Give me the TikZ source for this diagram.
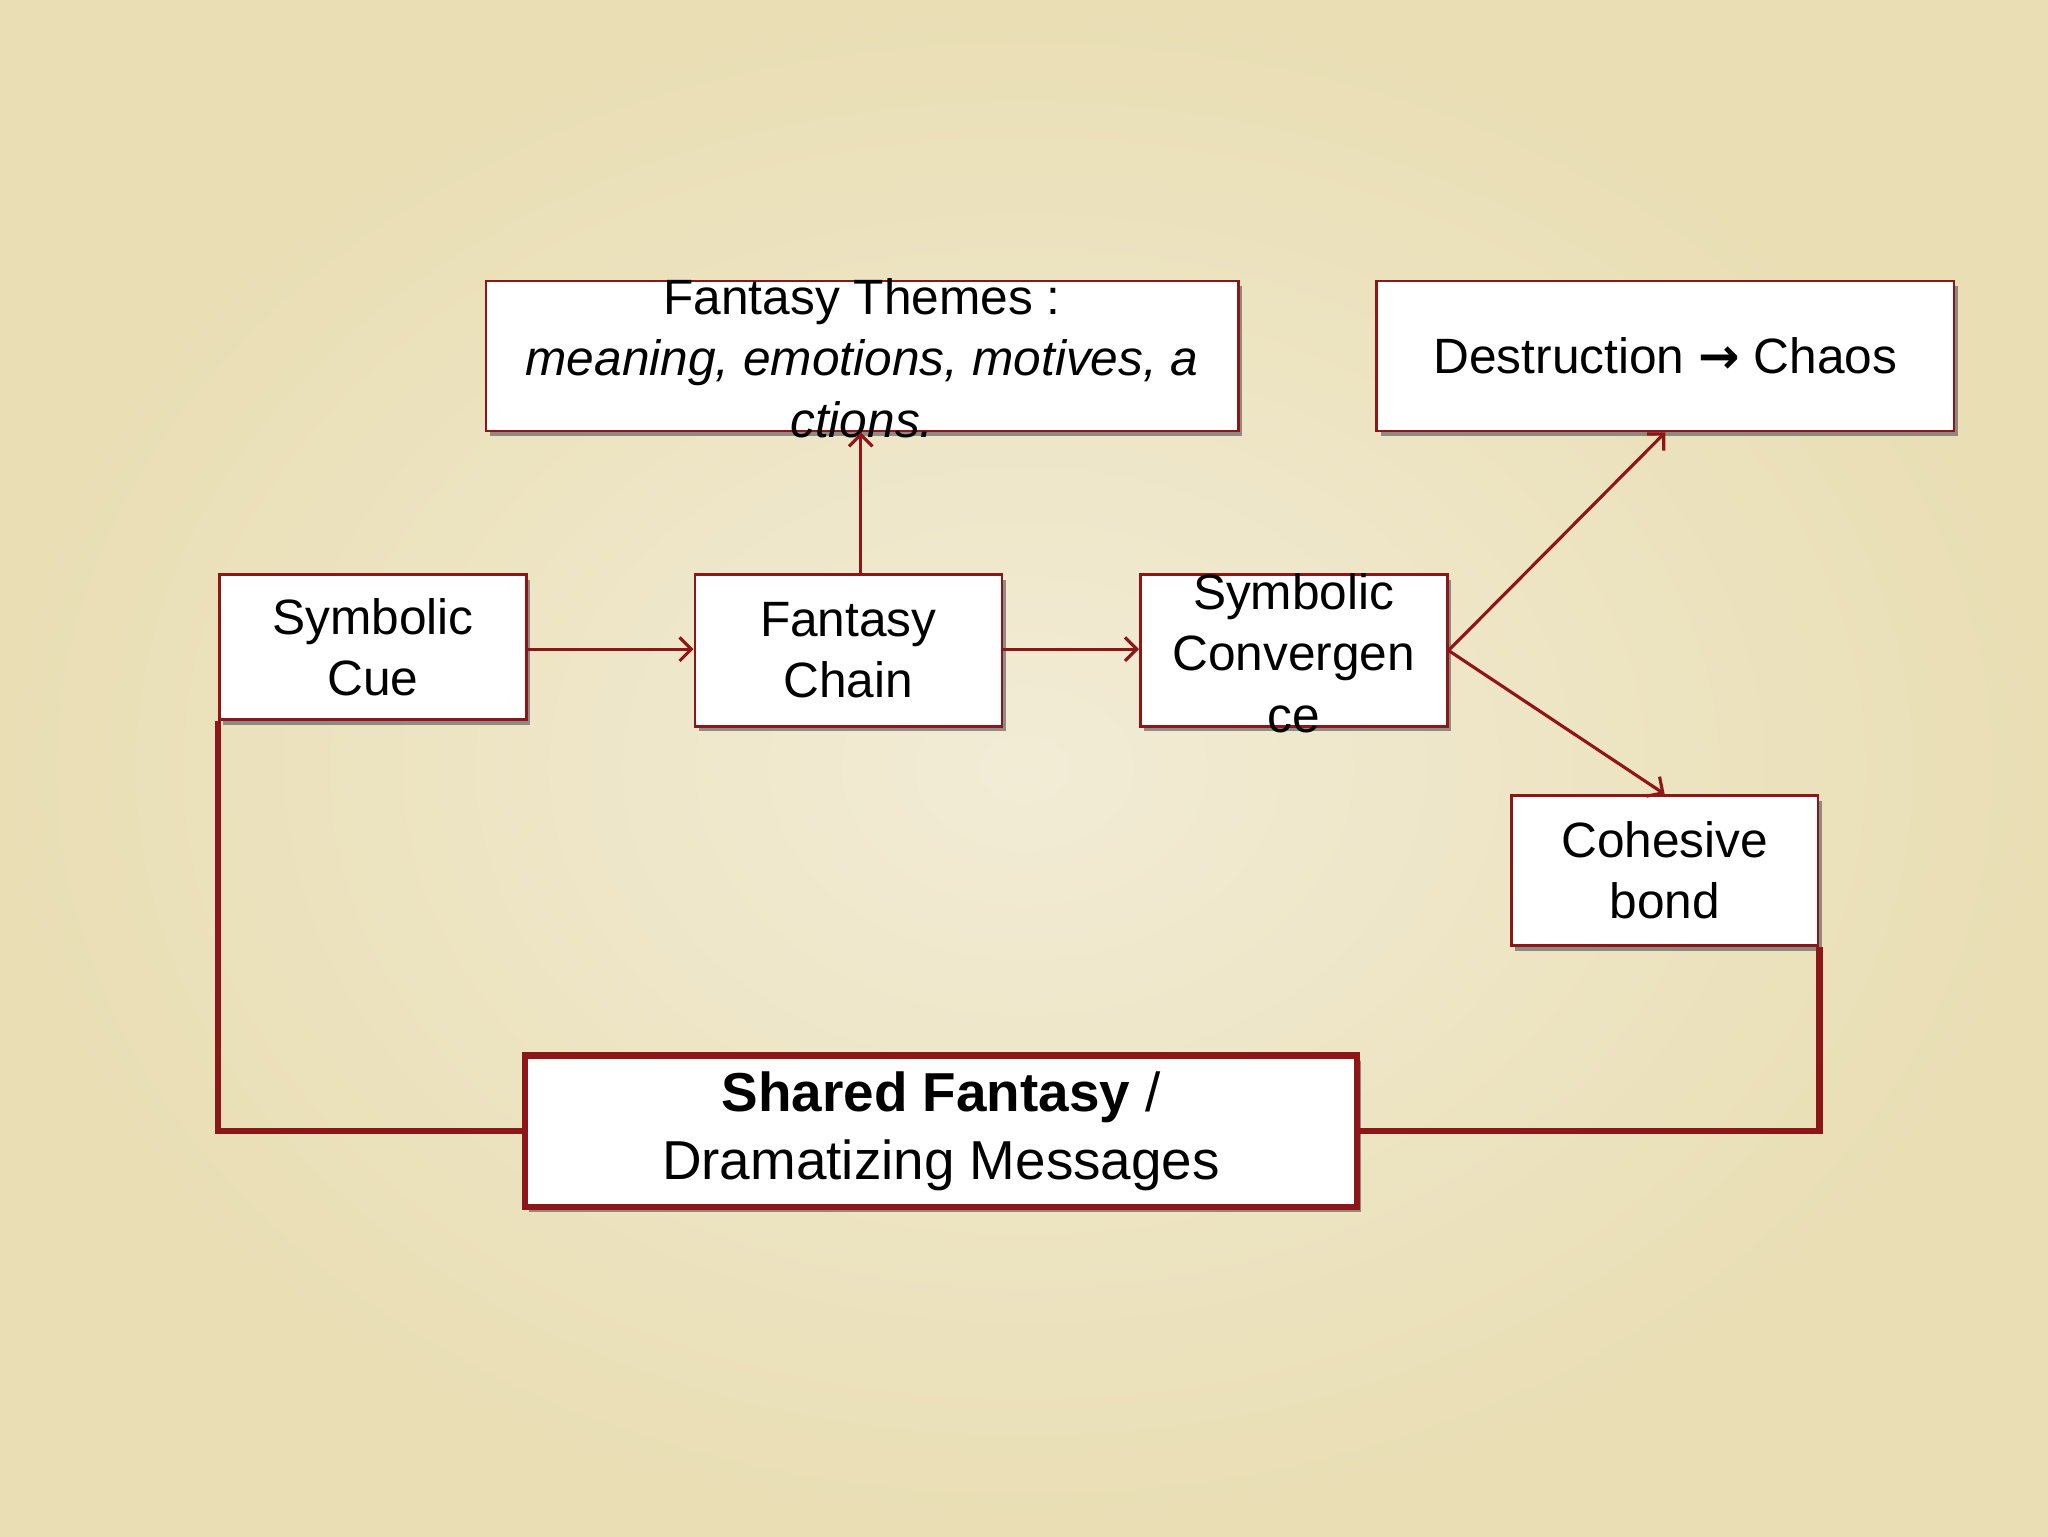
\documentclass[tikz,border=0pt]{standalone}
\usepackage{fontspec}
\setmainfont{Liberation Sans}
\newfontfamily\djv{DejaVu Sans}
\usetikzlibrary{arrows.meta,shadows}
\definecolor{dred}{RGB}{140,22,24}
\definecolor{bgin}{RGB}{242,236,214}
\definecolor{bgout}{RGB}{233,222,180}
\tikzset{
 box/.style={draw=dred,line width=2pt,fill=white,align=center,inner sep=0pt,
   drop shadow={shadow xshift=3pt,shadow yshift=-4pt,fill=black!60,opacity=.7},
   font=\fontsize{38}{47}\selectfont},
 conn/.style={draw=dred,line width=2.4pt,-{Straight Barb[length=9pt,width=18pt,line width=2.4pt]}},
 loop/.style={draw=dred,line width=5pt}
}
\begin{document}
\begin{tikzpicture}[x=1pt,y=-1pt]
\useasboundingbox (0,0) rectangle (1568,1176);
\shade[inner color=bgin,outer color=bgout] (0,0) rectangle (1568,1176);
\node[box,minimum width=576pt,minimum height=115pt] (themes) at (660,272.5) {};
\node[font=\fontsize{38}{47}\selectfont,align=center] at (660,274) {Fantasy Themes :\\ \itshape meaning, emotions, motives, a\\ \itshape ctions.};
\node[box,minimum width=442pt,minimum height=115pt] (dest) at (1275,272.5) {Destruction {\djv\bfseries→} Chaos};
\node[box,minimum width=235pt,minimum height=111pt] (cue) at (285.5,495.5) {Symbolic\\Cue};
\node[box,minimum width=235pt,minimum height=116pt] (chain) at (649.5,498) {Fantasy\\Chain};
\node[box,minimum width=235pt,minimum height=116pt] (conv) at (990.5,498) {};
\node[font=\fontsize{38}{47}\selectfont,align=center] at (990.5,500) {Symbolic\\Convergen\\ce};
\node[box,minimum width=235pt,minimum height=115pt] (coh) at (1274.5,666.5) {Cohesive\\bond};
\node[box,line width=5pt,minimum width=637pt,minimum height=116pt,font=\fontsize{42}{52}\selectfont] (shared) at (720.5,866) {\textbf{Shared Fantasy} /\\Dramatizing Messages};
\draw[conn] (cue.east |- 0,497) -- (chain.west |- 0,497);
\draw[conn] (chain.east |- 0,497) -- (conv.west |- 0,497);
\draw[conn] (chain.north -| 659,0) -- (themes.south -| 659,0);
\draw[conn] (conv.east) -- (dest.south);
\draw[conn] (conv.east) -- (coh.north);
\draw[loop] (cue.south west) |- (shared.west);
\draw[loop] (coh.south east) |- (shared.east);
\end{tikzpicture}
\end{document}
